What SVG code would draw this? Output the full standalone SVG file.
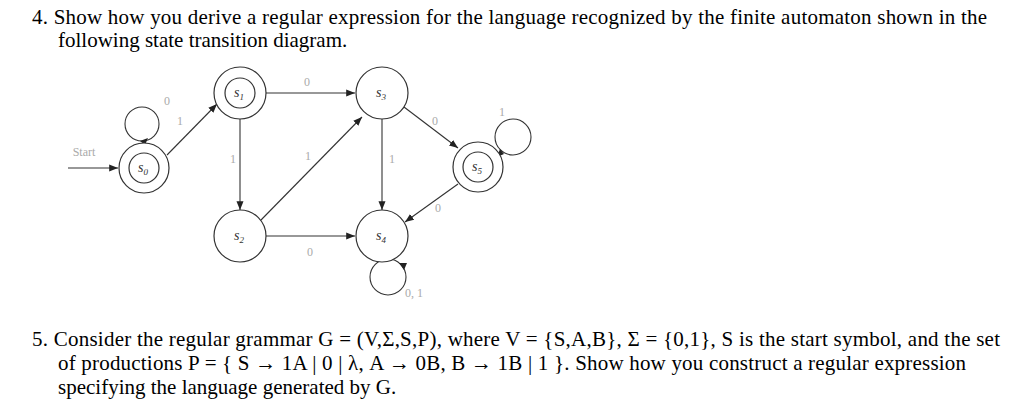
<svg xmlns="http://www.w3.org/2000/svg" width="1024" height="417" viewBox="0 0 1024 417">
<style>
.t{font-family:"Liberation Serif",serif;font-size:21px;fill:#000}
.st{fill:#fff;stroke:#333;stroke-width:1.2}
.n{font-family:"Liberation Serif",serif;font-style:italic;font-size:14px;fill:#333;text-anchor:middle}
.l{font-family:"Liberation Serif",serif;font-size:12px;fill:#aaa;text-anchor:middle}
.e{fill:none;stroke:#333;stroke-width:1.1}
</style>
<defs><marker id="a" viewBox="0 0 10 10" refX="10" refY="5" markerWidth="8" markerHeight="8" orient="auto"><path d="M0,1L10,5L0,9z" fill="#222"/></marker></defs>
<rect width="1024" height="417" fill="#fff"/>
<text class="t" x="32" y="24" textLength="955">4. Show how you derive a regular expression for the language recognized by the finite automaton shown in the</text>
<text class="t" x="58" y="47">following state transition diagram.</text>
<text class="t" x="32" y="346" textLength="968">5. Consider the regular grammar G = (V,Σ,S,P), where V = {S,A,B}, Σ = {0,1}, S is the start symbol, and the set</text>
<text class="t" x="58" y="370" textLength="908">of productions P = { S → 1A | 0 | λ, A → 0B, B → 1B | 1 }. Show how you construct a regular expression</text>
<text class="t" x="58" y="394">specifying the language generated by G.</text>
<g id="edges">
<line class="e" x1="68" y1="168" x2="118" y2="168" marker-end="url(#a)"/>
<circle class="e" cx="142" cy="124" r="17"/>
<line class="e" x1="167" y1="155" x2="217" y2="104" marker-end="url(#a)"/>
<line class="e" x1="266" y1="93" x2="355" y2="93" marker-end="url(#a)"/>
<line class="e" x1="240" y1="119" x2="240" y2="210" marker-end="url(#a)"/>
<line class="e" x1="261" y1="220" x2="362" y2="117" marker-end="url(#a)"/>
<line class="e" x1="266" y1="236" x2="355" y2="236" marker-end="url(#a)"/>
<line class="e" x1="382" y1="119" x2="382" y2="210" marker-end="url(#a)"/>
<line class="e" x1="404" y1="107" x2="458" y2="148" marker-end="url(#a)"/>
<line class="e" x1="458" y1="184" x2="405" y2="222" marker-end="url(#a)"/>
<circle class="e" cx="513" cy="137" r="18"/>
<circle class="e" cx="388" cy="277" r="18"/>
<path d="M140,141l8,-3l-3,7z" fill="#222"/>
<path d="M500,149l-3,8l7,-3z" fill="#222"/>
<path d="M399,263l8,0l-3,7z" fill="#222"/>
</g>
<g id="labels">
<text class="l" x="84" y="156">Start</text>
<text class="l" x="167" y="105">0</text>
<text class="l" x="180" y="125">1</text>
<text class="l" x="307" y="86">0</text>
<text class="l" x="233" y="163">1</text>
<text class="l" x="308" y="160">1</text>
<text class="l" x="310" y="256">0</text>
<text class="l" x="392" y="163">1</text>
<text class="l" x="435" y="125">0</text>
<text class="l" x="502" y="116">1</text>
<text class="l" x="438" y="212">0</text>
<text class="l" x="414" y="297">0, 1</text>
</g>
<g id="s0"><circle class="st" cx="144" cy="168" r="25"/><circle class="st" cx="144" cy="168" r="15"/><text class="n" x="143" y="172">s<tspan font-size="9" dy="3">0</tspan></text></g>
<g id="s1"><circle class="st" cx="240" cy="93" r="26"/><circle class="st" cx="240" cy="93" r="15"/><text class="n" x="239" y="97">s<tspan font-size="9" dy="3">1</tspan></text></g>
<g id="s2"><circle class="st" cx="240" cy="236" r="26"/><text class="n" x="239" y="240">s<tspan font-size="9" dy="3">2</tspan></text></g>
<g id="s3"><circle class="st" cx="382" cy="93" r="26"/><text class="n" x="381" y="97">s<tspan font-size="9" dy="3">3</tspan></text></g>
<g id="s4"><circle class="st" cx="382" cy="236" r="26"/><text class="n" x="381" y="240">s<tspan font-size="9" dy="3">4</tspan></text></g>
<g id="s5"><circle class="st" cx="478" cy="167" r="25"/><circle class="st" cx="478" cy="167" r="15"/><text class="n" x="477" y="171">s<tspan font-size="9" dy="3">5</tspan></text></g>
</svg>
